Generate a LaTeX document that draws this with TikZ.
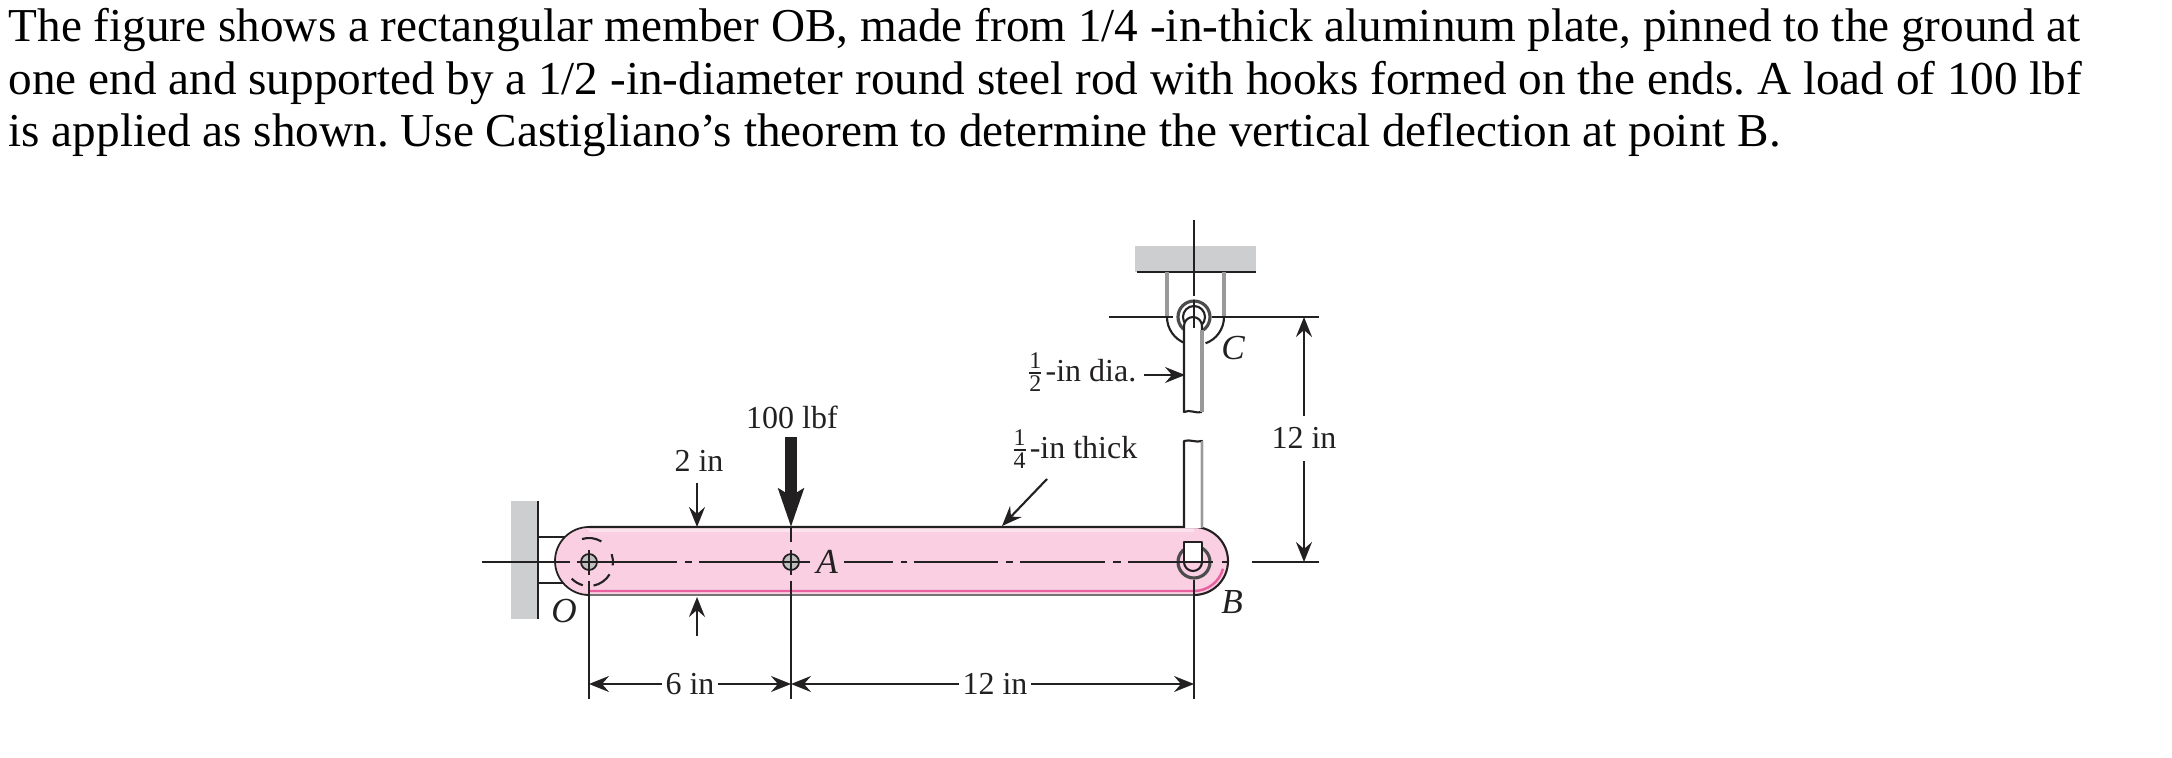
\documentclass[tikz,border=0pt]{standalone}
\usepackage{fontspec}
\setmainfont{Liberation Serif}
\usetikzlibrary{arrows.meta}
\definecolor{platepink}{RGB}{250,207,226}
\definecolor{platelight}{RGB}{252,226,237}
\definecolor{platedark}{RGB}{232,96,160}
\definecolor{wallgray}{RGB}{205,206,208}
\definecolor{inkblack}{RGB}{35,32,33}
\newcommand{\thinfrac}[2]{$\frac{\mbox{\fontsize{6.8}{7}\selectfont #1}}{\mbox{\fontsize{6.8}{7}\selectfont #2}}$}
\tikzset{
	thinline/.style={draw=inkblack, line width=0.6pt},
	grayline/.style={draw=black!40, line width=0.9pt},
	dimarrow/.style={thinline, -{Stealth[length=2mm,width=1.6mm,inset=0.7mm]}},
	label/.style={inner sep=0pt, font=\fontsize{9.1}{11}\selectfont, text=inkblack},
	pointlabel/.style={inner sep=0pt, font=\fontsize{10}{11}\selectfont\itshape, text=inkblack},
	pinhole/.style={fill=black!25, draw=inkblack, line width=0.5pt},
}
\begin{document}
\begin{tikzpicture}[x=0.01cm, y=-0.01cm, line join=round, line cap=butt]
	\useasboundingbox (0,0) rectangle (2172,758);
	\coordinate (O) at (589,562); \coordinate (A) at (791,562); \coordinate (B) at (1194,562);
	\coordinate (C) at (1194,317);
	% statement
	\node[anchor=north west, inner sep=0pt, align=left, font=\fontsize{13.42}{14.9}\selectfont] (statement) at (8,8)
		{\frenchspacing The figure shows a rectangular member OB, made from 1/4 -in-thick aluminum plate, pinned to the ground at\\
		\frenchspacing one end and supported by a 1/2 -in-diameter round steel rod with hooks formed on the ends. A load of 100 lbf\\
		\frenchspacing is applied as shown. Use Castigliano’s theorem to determine the vertical deflection at point B.};
	% supports
	\fill[wallgray] (511,501) rectangle (538,619);
	\draw[thinline, line width=0.8pt] (538,501)--(538,619);
	\draw[thinline] (538,537)--(570,537);
	\draw[thinline] (538,583)--(582,583);
	\fill[wallgray] (1135,246) rectangle (1256,272);
	\draw[thinline, line width=0.8pt] (1137,272)--(1256,272);
	% clevis at C
	\draw[grayline] (1167,272)--(1167,317);
	\draw[grayline] (1224,272)--(1224,317);
	\draw[thinline] (1167,317) arc[start angle=180, end angle=110, radius=28];
	\draw[thinline] (1224,317) arc[start angle=0, end angle=70, radius=28];
	% plate
	\fill[platepink] (589,527)--(1194,527) arc[start angle=-90, end angle=90, radius=34]--(589,595) arc[start angle=90, end angle=270, radius=34]--cycle;
	\fill[platelight] (589,528) rectangle (1194,532);
	\draw[platedark, line width=0.7pt] (589,591)--(1194,591) arc[start angle=90, end angle=15, radius=30];
	\draw[thinline] (589,527)--(1194,527) arc[start angle=-90, end angle=90, radius=34];
	\draw[draw=black!55, line width=0.7pt] (1194,595)--(589,595);
	\draw[thinline, line width=0.5pt] (589,595) arc[start angle=90, end angle=270, radius=34];
	% rod
	\draw[thinline, draw=black!70, line width=0.9pt] (C) circle[radius=16];
	\draw[thinline] (C) circle[radius=11];
	\draw[thinline, fill=white] (1202,412)--(1202,326) arc[start angle=0, end angle=-180, radius=9]--(1184,412) .. controls (1190,409) and (1196,414) .. (1202,412);
	\draw[grayline] (1202,330)--(1202,412);
	\draw[thinline, fill=white] (1184,528)--(1184,441) .. controls (1190,439) and (1196,443) .. (1202,441)--(1202,528);
	\draw[grayline, line width=0.6pt] (1202,441)--(1202,528);
	% pins and hooks
	\draw[thinline] (O) ++(-107:24) arc[start angle=-107, end angle=-59, radius=24];
	\draw[thinline] (O) ++(-19:24) arc[start angle=-19, end angle=8, radius=24];
	\draw[thinline] (O) ++(31:24) arc[start angle=31, end angle=79, radius=24];
	\draw[thinline] (O) ++(105:24) arc[start angle=105, end angle=136, radius=24];
	\draw[pinhole] (O) circle[radius=8];
	\draw[pinhole] (A) circle[radius=8];
	\draw[thinline, draw=black!70, line width=0.9pt] (B) circle[radius=16];
	\draw[thinline] (1184,562) arc[start angle=180, end angle=0, radius=9];
	\draw[thinline, fill=white] (1184,562)--(1184,542)--(1202,542)--(1202,562);
	% center lines
	\draw[thinline] (482,562)--(570,562);
	\draw[thinline] (577,562)--(677,562);
	\draw[thinline] (685,562)--(692,562);
	\draw[thinline] (699,562)--(810,562);
	\draw[thinline] (844,562)--(893,562);
	\draw[thinline] (901,562)--(907,562);
	\draw[thinline] (914,562)--(998,562);
	\draw[thinline] (1006,562)--(1013,562);
	\draw[thinline] (1020,562)--(1105,562);
	\draw[thinline] (1113,562)--(1121,562);
	\draw[thinline] (1128,562)--(1213,562);
	\draw[thinline] (1222,562)--(1228,562);
	\draw[thinline] (589,550)--(589,575);
	\draw[thinline] (791,528)--(791,542);
	\draw[thinline] (791,550)--(791,575);
	\draw[thinline] (1194,220)--(1194,296);
	\draw[thinline] (1194,300)--(1194,328);
	\draw[thinline] (1109,317)--(1173,317);
	\draw[thinline] (1212,317)--(1319,317);
	\draw[thinline] (1252,562)--(1319,562);
	% extension lines
	\draw[thinline] (589,581)--(589,699);
	\draw[thinline] (791,581)--(791,699);
	\draw[thinline] (1194,580)--(1194,699);
	% load
	\coordinate (Ptop) at (791,437); \coordinate (Ptip) at (791,527);
	\draw[draw=inkblack, line width=0.12cm, -{Stealth[length=0.38cm,width=0.25cm,inset=0.07cm]}] (Ptop)--(Ptip);
	\node[label] (load) at (792,417) {100 lbf};
	% plate width
	\node[label] (twoin) at (699,461) {2 in};
	\coordinate (Wtop) at (697,527); \coordinate (Wbot) at (697,597);
	\coordinate (Wa) at (697,483); \coordinate (Wb) at (697,636);
	\draw[dimarrow] (Wa)--(Wtop);
	\draw[dimarrow] (Wb)--(Wbot);
	% bottom dimensions
	\coordinate (Od) at (589,684); \coordinate (Ad) at (791,684); \coordinate (Bd) at (1194,684);
	\node[label] (sixin) at (690,684) {6 in};
	\node[label] (twelveh) at (995,684) {12 in};
	\draw[dimarrow] (sixin.west)++(-3,0)--(Od);
	\draw[dimarrow] (sixin.east)++(3,0)--(Ad);
	\draw[dimarrow] (twelveh.west)++(-3,0)--(Ad);
	\draw[dimarrow] (twelveh.east)++(3,0)--(Bd);
	% height dimension
	\coordinate (Cd) at (1304,317); \coordinate (Bv) at (1304,562);
	\node[label] (twelvev) at (1304,438) {12 in};
	\draw[dimarrow] (1304,416)--(Cd);
	\draw[dimarrow] (1304,461)--(Bv);
	% callouts
	\node[label, anchor=east] (dia) at (1137,372) {\thinfrac{1}{2}-in dia.};
	\coordinate (Rod) at (1185,375);
	\draw[dimarrow] (1144,375)--(Rod);
	\node[label, anchor=east] (thick) at (1138,449) {\thinfrac{1}{4}-in thick};
	\coordinate (Pl) at (1002,526);
	\draw[dimarrow] (1047,479)--(Pl);
	% points
	\node[pointlabel] (Olabel) at (564,611) {O};
	\node[pointlabel] (Alabel) at (827,562) {A};
	\node[pointlabel] (Blabel) at (1232,602) {B};
	\node[pointlabel] (Clabel) at (1233,348) {C};
\end{tikzpicture}
\end{document}
